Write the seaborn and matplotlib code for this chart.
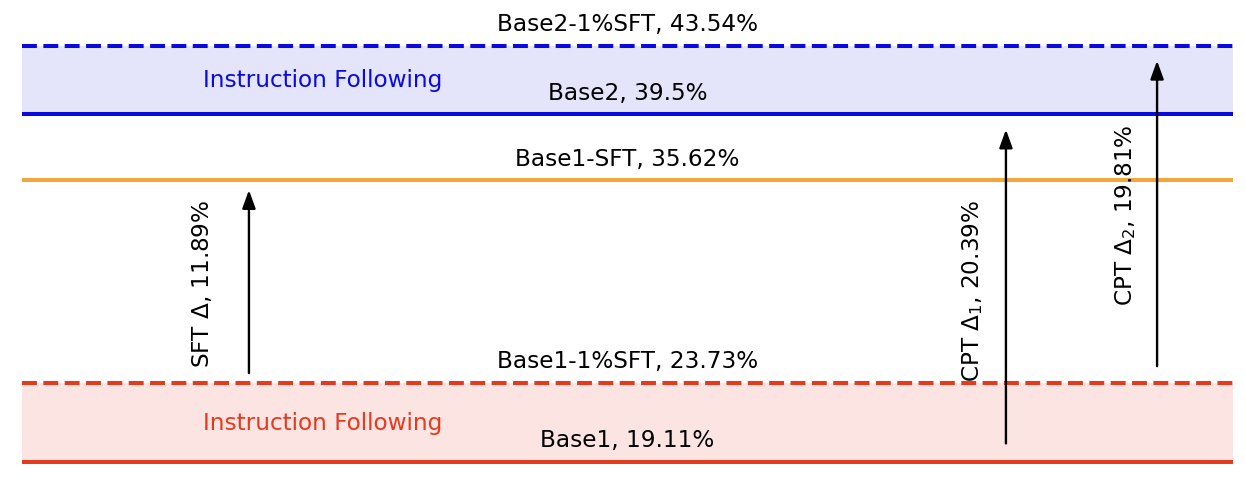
import matplotlib
matplotlib.use("Agg")
import matplotlib.pyplot as plt
import seaborn as sns
import pandas as pd

# ---- data ----
level_names = ["Base1", "Base1-1%SFT", "Base1-SFT", "Base2", "Base2-1%SFT"]
level_values = [19.11, 23.73, 35.62, 39.5, 43.54]
level_colors = ["#e63a1e", "#e63a1e", "#f2a73a", "#0a0ae0", "#0a0ae0"]
level_dashed = [False, True, False, False, True]

band_labels = ["Instruction Following", "Instruction Following"]
band_low = [19.11, 39.5]
band_high = [23.73, 43.54]
band_fill = ["#fce4e3", "#e4e4fa"]
band_text = ["#e63a1e", "#0a0ae0"]

delta_labels = [r"SFT $\Delta$, 11.89%", r"CPT $\Delta_1$, 20.39%", r"CPT $\Delta_2$, 19.81%"]
delta_from = [23.73, 19.11, 23.73]
delta_to = [35.62, 39.5, 43.54]

# ---- style / layout ----
sns.set_theme(style="white")
plt.rcParams["font.family"] = ["DejaVu Sans"]
plt.rcParams["mathtext.fontset"] = "dejavusans"
FS = 16.7

W, H = 1246, 485
fig = plt.figure(figsize=(W / 100, H / 100), dpi=100)
ax = fig.add_axes([22 / W, 22.5 / H, 1211 / W, 416 / H])

# level lines through seaborn
rows = []
for n, v in zip(level_names, level_values):
    rows.append({"x": 0.0, "y": v, "level": n})
    rows.append({"x": 1.0, "y": v, "level": n})
df = pd.DataFrame(rows)
palette = dict(zip(level_names, level_colors))
dashes = {n: ((3.7, 1.6) if d else "") for n, d in zip(level_names, level_dashed)}
sns.lineplot(data=df, x="x", y="y", hue="level", style="level",
             palette=palette, dashes=dashes, linewidth=2.9,
             legend=False, ax=ax, estimator=None, sort=False)
for ln in ax.lines:
    ln.set_clip_on(False)
    ln.set_solid_capstyle("butt")
    ln.set_dash_capstyle("butt")

# shaded bands
for lo, hi, fc, lab, tc in zip(band_low, band_high, band_fill, band_labels, band_text):
    ax.fill_between([0, 1], lo, hi, color=fc, lw=0, zorder=0)
    ax.text(0.2486, (lo + hi) / 2, lab, color=tc, fontsize=FS,
            ha="center", va="center")

# level labels
for n, v in zip(level_names, level_values):
    ax.annotate(f"{n}, {v}%", xy=(0.5, v), xytext=(0, 16),
                textcoords="offset points", ha="center", va="center",
                fontsize=FS, color="black")

# delta arrows
arrow_x = [0.1874, 0.8125, 0.9373]
shrink_a = [7, 13, 12]
shrink_b = [7, 11, 11]
text_x = [0.1486, 0.785, 0.911]
text_y = [29.59, 29.21, 33.61]
for lab, f, t, ax_x, sa, sb, tx, ty in zip(delta_labels, delta_from, delta_to,
                                            arrow_x, shrink_a, shrink_b, text_x, text_y):
    ax.annotate("", xy=(ax_x, t), xytext=(ax_x, f),
                arrowprops=dict(arrowstyle="-|>,head_length=1.1,head_width=0.4",
                                color="black", lw=1.7, mutation_scale=10,
                                shrinkA=sa, shrinkB=sb))
    ax.text(tx, ty, lab, rotation=90, ha="center", va="center",
            fontsize=FS, color="black")

ax.set_xlim(0, 1)
ax.set_ylim(19.11, 43.54)
ax.axis("off")

fig.savefig("out.png", dpi=100, facecolor="white")
